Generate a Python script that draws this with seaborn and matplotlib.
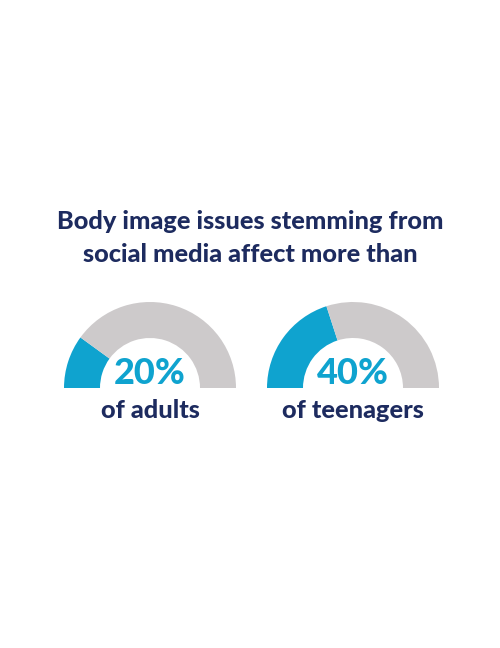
import matplotlib
matplotlib.use("Agg")
import matplotlib.pyplot as plt
import seaborn as sns

title_lines = ["Body image issues stemming from", "social media affect more than"]
groups = ["of adults", "of teenagers"]
percents = [20, 40]

sns.set_theme(style="white")
plt.rcParams['font.family'] = ['Lato', 'DejaVu Sans']

BLUE = "#0fa3cf"
GRAY = "#cdcacb"
NAVY = "#1d2b5f"

W, H = 500, 648
fig = plt.figure(figsize=(W / 100, H / 100), dpi=100)
fig.patch.set_facecolor("white")

fig.text(0.5, 1 - 221 / H, title_lines[0], ha="center", va="center",
         fontsize=18.3, fontweight=900, color=NAVY)
fig.text(0.5, 1 - 254 / H, title_lines[1], ha="center", va="center",
         fontsize=18.3, fontweight=900, color=NAVY)

centers_x = [150, 353]
cy = 388
R = 86
for cx, pct, lab in zip(centers_x, percents, groups):
    ax = fig.add_axes([(cx - R) / W, (H - cy - R) / H, 2 * R / W, 2 * R / H])
    vals = [pct, 100 - pct, 100]
    wedges, _ = ax.pie(vals, colors=[BLUE, GRAY, "none"], startangle=180,
                       counterclock=False, radius=1,
                       wedgeprops=dict(width=36 / 86, linewidth=0))
    ax.set_xlim(-1, 1)
    ax.set_ylim(-1, 1)
    ax.set_aspect("equal")
    ax.axis("off")
    fig.text(cx / W, 1 - 374 / H, f"{pct}%", ha="center", va="center",
             fontsize=26, fontweight=900, color=BLUE)
    fig.text(cx / W, 1 - 410 / H, lab, ha="center", va="center",
             fontsize=18.3, fontweight=900, color=NAVY)

fig.savefig("out.png", dpi=100, facecolor="white")
